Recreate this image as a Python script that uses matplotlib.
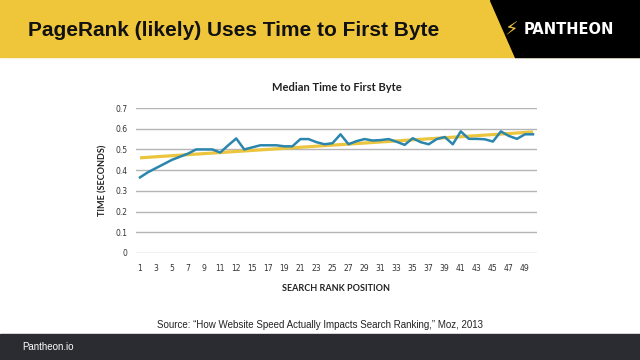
import numpy as np
import matplotlib.pyplot as plt
from matplotlib.patches import Rectangle, Polygon

# search rank 1..50, median TTFB in seconds
ranks = np.arange(1, 51)
ttfb = [0.365, 0.39, 0.41, 0.43, 0.45, 0.465, 0.48, 0.50, 0.50, 0.50,
        0.485, 0.52, 0.553, 0.50, 0.51, 0.52, 0.52, 0.52, 0.515, 0.515,
        0.55, 0.55, 0.535, 0.525, 0.53, 0.573, 0.525, 0.54, 0.55, 0.543,
        0.545, 0.55, 0.537, 0.522, 0.554, 0.535, 0.525, 0.55, 0.56, 0.525,
        0.587, 0.551, 0.551, 0.549, 0.538, 0.587, 0.565, 0.551, 0.573, 0.573]
tick_pos = list(range(1, 50, 2))
tick_lab = ['1', '3', '5', '7', '9', '11', '12', '15', '17', '19', '21', '23', '25',
            '27', '29', '31', '33', '35', '37', '39', '41', '43', '45', '47', '49']
y_ticks = [0, 0.1, 0.2, 0.3, 0.4, 0.5, 0.6, 0.7]
y_labels = ['0', '0.1', '0.2', '0.3', '0.4', '0.5', '0.6', '0.7']

blue = '#2b86ad'
gold = '#ecc53e'

fig = plt.figure(figsize=(6.4, 3.6), dpi=100)
fig.patch.set_facecolor('white')

# header band + black logo block
fig.add_artist(Rectangle((0, 1 - 57/360), 1, 57/360, transform=fig.transFigure,
                         color='#efc63a', zorder=0))
fig.add_artist(Polygon([(490/640, 1), (1, 1), (1, 1 - 57/360), (515/640, 1 - 57/360)],
                       closed=True, transform=fig.transFigure, color='black', zorder=1))
fig.text(28/640, 1 - 30/360, 'PageRank (likely) Uses Time to First Byte',
         family='Liberation Sans', weight='bold', fontsize=15, color='#111111',
         va='center', ha='left')
fig.text(511/640, 1 - 30/360, '\u26a1', color=gold, fontsize=14,
         family='DejaVu Sans', va='center', ha='center')
fig.text(524/640, 1 - 30/360, 'PANTHEON', color='white', weight='bold',
         family='DejaVu Sans', fontsize=10.5, va='center', ha='left')

# footer
fig.add_artist(Rectangle((0, 0), 1, 26/360, transform=fig.transFigure,
                         color='#2a2c31', zorder=0))
fig.text(22/640, 13/360, 'Pantheon.io', color='white', fontsize=7,
         family='Liberation Sans', va='center', ha='left')
fig.text(320/640, 1 - 325/360,
         'Source: \u201cHow Website Speed Actually Impacts Search Ranking,\u201d Moz, 2013',
         color='#222222', fontsize=7, family='Liberation Sans', ha='center', va='center')

# chart
ax = fig.add_axes([136/640, 107/360, 401/640, 145/360])
ax.set_facecolor('none')
for y in y_ticks:
    ax.axhline(y, color='#b5b5b5', lw=1, zorder=1)

fit = np.polyfit(ranks, ttfb, 1)
ax.plot(ranks, np.polyval(fit, ranks), color=gold, lw=2.3, zorder=2,
        solid_capstyle='butt')
ax.plot(ranks, ttfb, color=blue, lw=1.8, zorder=3)

ax.set_xlim(0.5, 50.5)
ax.set_ylim(0, 0.7)
ax.set_xticks(tick_pos)
ax.set_xticklabels(tick_lab)
ax.set_yticks(y_ticks)
ax.set_yticklabels(y_labels)
ax.tick_params(length=0, labelsize=5.5, colors='#333333')
ax.tick_params(axis='x', pad=8)
ax.tick_params(axis='y', pad=6)
for s in ax.spines.values():
    s.set_visible(False)

ax.set_title('Median Time to First Byte', fontsize=8, weight='bold', family='Lato',
             color='#222222', pad=12)
ax.set_xlabel('SEARCH RANK POSITION', fontsize=6.5, weight='bold', family='Lato',
              color='#222222', labelpad=8)
ax.set_ylabel('TIME (SECONDS)', fontsize=6.5, weight='bold', family='Lato',
              color='#222222', labelpad=6)

fig.savefig('out.png', dpi=100)
